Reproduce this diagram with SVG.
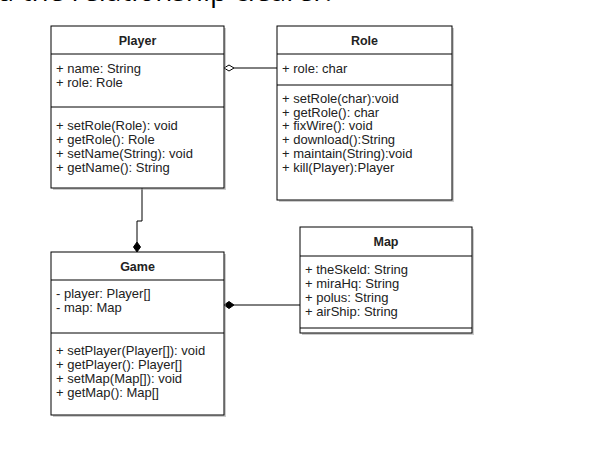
<svg xmlns="http://www.w3.org/2000/svg" width="597" height="468" viewBox="0 0 597 468">
<style>
.box{fill:#fff;stroke:#000;stroke-width:1}
.shadow{fill:#999;opacity:0.5}
.sep{stroke:#000;stroke-width:1}
.t{font-family:"Liberation Sans",Arial,sans-serif;font-size:13px;fill:#222}
.h{font-family:"Liberation Sans",Arial,sans-serif;font-size:12.5px;font-weight:bold;fill:#222;text-anchor:middle}
.edge{fill:none;stroke:#000;stroke-width:1}
.top{font-family:"Open Sans","Noto Sans",sans-serif;font-size:28px;fill:#000}
</style>
<rect width="597" height="468" fill="#fff"/>
<text class="top" x="-3" y="0.5">d the relationship clearer.</text>

<g id="connectors">
<path class="edge" d="M234,68 L277,68"/>
<path d="M224,68 L229,65 L234,68 L229,71 Z" fill="#fff" stroke="#000" stroke-width="1"/>
<path class="edge" d="M142,188 L142,221 L137,221 L137,242"/>
<path d="M137,242 L140.5,247 L137,252 L133.5,247 Z" fill="#000" stroke="#000" stroke-width="1"/>
<path class="edge" d="M234,305 L300,305"/>
<path d="M224,305 L229,301.5 L234,305 L229,308.5 Z" fill="#000" stroke="#000" stroke-width="1"/>
</g>

<g id="Player">
<rect class="shadow" x="53" y="28" width="173" height="162"/>
<rect class="box" x="51" y="26" width="173" height="162"/>
<line class="sep" x1="51" y1="54" x2="224" y2="54"/>
<line class="sep" x1="51" y1="107" x2="224" y2="107"/>
<text class="h" x="137.5" y="45">Player</text>
<text class="t" x="56" y="73">+ name: String</text>
<text class="t" x="56" y="87">+ role: Role</text>
<text class="t" x="56" y="130">+ setRole(Role): void</text>
<text class="t" x="56" y="144">+ getRole(): Role</text>
<text class="t" x="56" y="158">+ setName(String): void</text>
<text class="t" x="56" y="172">+ getName(): String</text>
</g>

<g id="Role">
<rect class="shadow" x="279" y="28" width="175" height="174"/>
<rect class="box" x="277" y="26" width="175" height="174"/>
<line class="sep" x1="277" y1="54" x2="452" y2="54"/>
<line class="sep" x1="277" y1="85" x2="452" y2="85"/>
<text class="h" x="364.5" y="45">Role</text>
<text class="t" x="282" y="73">+ role: char</text>
<text class="t" x="282" y="103">+ setRole(char):void</text>
<text class="t" x="282" y="117">+ getRole(): char</text>
<text class="t" x="282" y="130">+ fixWire(): void</text>
<text class="t" x="282" y="144">+ download():String</text>
<text class="t" x="282" y="158">+ maintain(String):void</text>
<text class="t" x="282" y="172">+ kill(Player):Player</text>
</g>

<g id="Game">
<rect class="shadow" x="53" y="254" width="173" height="163"/>
<rect class="box" x="51" y="252" width="173" height="163"/>
<line class="sep" x1="51" y1="280" x2="224" y2="280"/>
<line class="sep" x1="51" y1="333" x2="224" y2="333"/>
<text class="h" x="137.5" y="271">Game</text>
<text class="t" x="56" y="298">- player: Player[]</text>
<text class="t" x="56" y="312">- map: Map</text>
<text class="t" x="56" y="355">+ setPlayer(Player[]): void</text>
<text class="t" x="56" y="369">+ getPlayer(): Player[]</text>
<text class="t" x="56" y="383">+ setMap(Map[]): void</text>
<text class="t" x="56" y="397">+ getMap(): Map[]</text>
</g>

<g id="Map">
<rect class="shadow" x="302" y="229" width="172" height="106"/>
<rect class="box" x="300" y="227" width="172" height="106"/>
<line class="sep" x1="300" y1="256" x2="472" y2="256"/>
<line class="sep" x1="300" y1="328" x2="472" y2="328"/>
<text class="h" x="386" y="246">Map</text>
<text class="t" x="305" y="274">+ theSkeld: String</text>
<text class="t" x="305" y="288">+ miraHq: String</text>
<text class="t" x="305" y="302">+ polus: String</text>
<text class="t" x="305" y="316">+ airShip: String</text>
</g>
</svg>
